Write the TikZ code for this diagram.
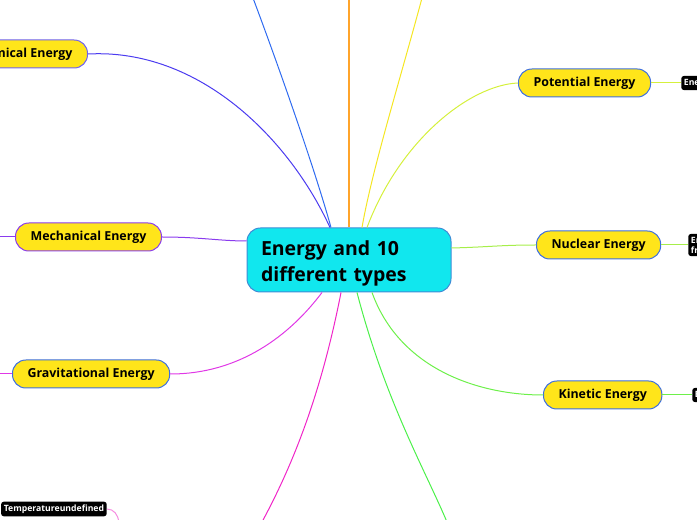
\documentclass[tikz,border=0pt]{standalone}
\usepackage{fontspec}
\setmainfont{Open Sans}
\usepackage{xcolor}
\usetikzlibrary{positioning}
\definecolor{topiccyan}{HTML}{11E7EE}
\definecolor{topicedge}{HTML}{3F8CD6}
\definecolor{branchyellow}{HTML}{FFE51A}
\definecolor{branchedge}{HTML}{3D6FE0}
\definecolor{lnchem}{HTML}{4B3BF0}
\definecolor{lnblue}{HTML}{2F6BF0}
\definecolor{lnorange}{HTML}{FFA42B}
\definecolor{lnyellow}{HTML}{F5E623}
\definecolor{lnpot}{HTML}{D5F03C}
\definecolor{lnnuc}{HTML}{A6EE4A}
\definecolor{lnkin}{HTML}{6DF04A}
\definecolor{lngreen}{HTML}{4CF04A}
\definecolor{lnmagenta}{HTML}{F025C8}
\definecolor{lngrav}{HTML}{E038E6}
\definecolor{lnmech}{HTML}{8A3BEE}
\definecolor{lnpink}{HTML}{F58CE0}

\begin{document}
\begin{tikzpicture}[
    x=0.75pt,y=-0.75pt,
    topic/.style={draw=topicedge,fill=topiccyan,line width=0.75pt,rounded corners=10pt,minimum width=153pt,minimum height=48pt,text width=132pt,text depth=18.5pt,align=left,font=\fontsize{14.6}{20}\selectfont\bfseries},
    branch/.style={draw=branchedge,fill=branchyellow,line width=0.75pt,rounded corners=10pt,minimum height=21pt,inner xsep=11.3pt,font=\fontsize{9.3}{11}\selectfont\bfseries},
    note/.style={fill=black,text=white,rounded corners=2pt,inner xsep=2pt,inner ysep=2.2pt,align=left,font=\fontsize{6.5}{7.5}\selectfont\bfseries},
    link/.style={line width=0.75pt}
  ]
    \useasboundingbox (0,0) rectangle (697,520);
    \clip (0,0) rectangle (697,520);
    \node[topic] (main) at (349,260) {Energy and 10\\different types};
    \node[branch,draw=lnchem!80,anchor=east] (chem) at (88,54) {Chemical Energy};
    \node[branch,draw=lnmech,anchor=west] (mech) at (15,237) {Mechanical Energy};
    \node[branch,anchor=west] (grav) at (12,374) {Gravitational Energy};
    \node[branch,anchor=west] (pot) at (518,83) {Potential Energy};
    \node[branch,anchor=west] (nuc) at (536,245) {Nuclear Energy};
    \node[branch,anchor=west] (kin) at (543,395) {Kinetic Energy};
    \node[note,anchor=east] (temp) at (107,509) {Temperatureundefined};
    \node[note,anchor=west] (potnote) at (681,83) {Energy};
    \node[note,anchor=west] (nucnote) at (688,245) {Energy\\from};
    \node[note,anchor=west] (kinnote) at (692,395) {Energy};
    \coordinate (topblue) at (253,-2);
    \coordinate (toporange) at (349,-2);
    \coordinate (topyellow) at (422,-2);
    \coordinate (botmagenta) at (262,522);
    \coordinate (botgreen) at (447,522);
    \coordinate (mechout) at (-6,237);
    \coordinate (gravout) at (-6,374);
    \coordinate (tempout) at (119,522);
    % branches round the topic
    \draw[link,lnchem] (chem.east) .. controls (200,48) and (290,140) .. (main.north west -| 330,0);
    \draw[link,lnblue] (topblue) .. controls (280,70) and (315,170) .. (main.north west -| 331,0);
    \draw[line width=1.5pt,lnorange] (toporange) -- (main.north);
    \draw[link,lnyellow] (topyellow) .. controls (400,80) and (372,170) .. (main.north west -| 362,0);
    \draw[link,lnpot] (pot.west) .. controls (470,85) and (400,140) .. (main.north west -| 367,0);
    \draw[link,lnnuc] (main.east |- 0,248) .. controls (490,247) and (500,245) .. (nuc.west);
    \draw[link,lnkin] (main.south west -| 372,0) .. controls (400,370) and (480,395) .. (kin.west);
    \draw[link,lngreen] (main.south west -| 357,0) .. controls (385,400) and (425,470) .. (botgreen);
    \draw[link,lnmagenta] (main.south west -| 341,0) .. controls (320,400) and (290,470) .. (botmagenta);
    \draw[link,lngrav] (grav.east) .. controls (240,374) and (290,335) .. (main.south west -| 322,0);
    \draw[link,lnmech] (mech.east) .. controls (200,237) and (220,241) .. (main.west |- 0,241);
    % leaves
    \draw[link,lnmech] (mech.west) -- (mechout);
    \draw[link,lngrav] (grav.west) -- (gravout);
    \draw[link,lnpink] (temp.east) .. controls (114,509) and (118,515) .. (tempout);
    \draw[link,lnpot] (pot.east) -- (potnote.west);
    \draw[link,lnnuc] (nuc.east) -- (nucnote.west);
    \draw[link,lnkin] (kin.east) -- (kinnote.west);
\end{tikzpicture}
\end{document}
